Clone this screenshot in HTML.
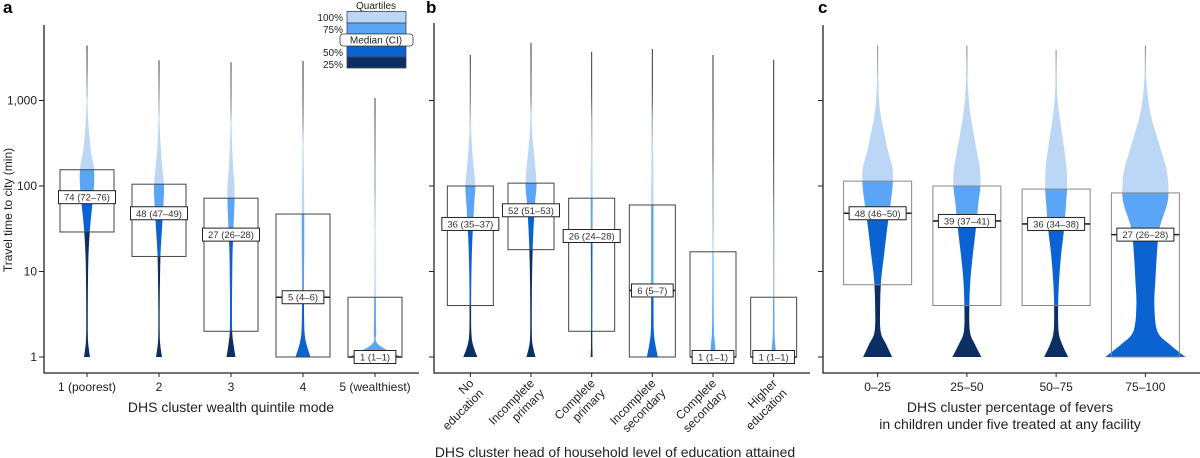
<!DOCTYPE html>
<html><head><meta charset="utf-8"><style>
html,body{margin:0;padding:0;background:#fff;width:1200px;height:458px;overflow:hidden}
svg{font-family:"Liberation Sans",sans-serif}
</style></head><body>
<svg id="chart" width="1200" height="458" viewBox="0 0 1200 458" xmlns="http://www.w3.org/2000/svg"></svg>
<script>
// ---- data ----
const levels = [0, 0.15, 0.3, 0.6, 0.9, 1.2, 1.5, 1.8, 2.0, 2.2, 2.4, 2.6, 2.8, 3.0, 3.3, 3.6]; // log10 minutes
const catsA = ["1 (poorest)", "2", "3", "4", "5 (wealthiest)"];
const catsB = [["No","education"],["Incomplete","primary"],["Complete","primary"],["Incomplete","secondary"],["Complete","secondary"],["Higher","education"]];
const catsC = ["0–25", "25–50", "50–75", "75–100"];
const medA = [74, 48, 27, 5, 1];
const ciA = ["74 (72–76)", "48 (47–49)", "27 (26–28)", "5 (4–6)", "1 (1–1)"];
const q1A = [29, 15, 2, 1, 1];
const q3A = [155, 105, 72, 47, 5];
const maxA = [4400, 2960, 2800, 2900, 1070];
const medB = [36, 52, 26, 6, 1, 1];
const ciB = ["36 (35–37)", "52 (51–53)", "26 (24–28)", "6 (5–7)", "1 (1–1)", "1 (1–1)"];
const q1B = [4, 18, 2, 1, 1, 1];
const q3B = [100, 108, 72, 60, 17, 5];
const maxB = [3400, 4700, 3700, 4000, 3400, 3000];
const medC = [48, 39, 36, 27];
const ciC = ["48 (46–50)", "39 (37–41)", "36 (34–38)", "27 (26–28)"];
const q1C = [7, 4, 4, 1];
const q3C = [114, 100, 92, 83];
const maxC = [4400, 4400, 3900, 4400];
const densA = [
 [3,1.3,0.8,0.8,1,1.5,3,5.5,7,7,4,2.2,1,0.5,0.2,0],
 [3,1.2,0.7,0.7,1,1.5,3,4.5,5,3.5,2,1,0.5,0.3,0.1,0],
 [4.5,2.5,1.2,1,1.2,1.5,2.5,3.5,3.5,2.2,1.3,0.8,0.4,0.2,0.1,0],
 [7.5,3.5,1.5,1,1,1.2,1.3,1.2,1,0.8,0.6,0.4,0.2,0.1,0,0],
 [26,3,1.2,0.9,0.7,0.6,0.5,0.4,0.3,0.3,0.2,0.15,0.1,0.05,0,0]];
const densB = [
 [7,2.5,1,0.8,1,1.5,2.5,4,5,3.5,2,1,0.5,0.2,0.1,0],
 [4.5,1.5,0.8,0.8,1,1.5,2.5,4,5.5,4.5,2.8,1.3,0.6,0.2,0.1,0],
 [1,0.6,0.6,0.6,0.7,0.8,0.9,1,1,0.9,0.7,0.5,0.3,0.1,0,0],
 [5.5,3,1.5,1.2,1.2,1.2,1.2,1.2,1.1,1,0.8,0.5,0.3,0.1,0,0],
 [3,2,1,0.7,0.6,0.5,0.4,0.3,0.3,0.2,0.1,0.1,0.05,0,0,0],
 [3,1.5,0.8,0.6,0.5,0.4,0.3,0.2,0.1,0.1,0,0,0,0,0,0]];
const densC = [
 [14.5,8.5,3,2.5,3.5,6.5,9.5,13,15,15,10.5,7,3.5,1.5,0.4,0],
 [14.5,8,3,2.5,3.5,6,9,11.5,13.5,13,10,7,4,2,0.5,0],
 [12,6,2.5,2,3,5,8,10,11,10.5,8.5,6,3.5,1.5,0.4,0],
 [40,24,12,9,10,11.5,14,22,23,21,16,11,6,3,0.7,0]];
const yTicks = [1, 10, 100, 1000];
const yTickLabels = ["1", "10", "100", "1,000"];

const COL = {light:"#bcd7f5", mid:"#5aa5f5", blue:"#0a63d1", dark:"#0b2f63"};
const NS = "http://www.w3.org/2000/svg";
const svg = document.getElementById("chart");
const Y = v => 357 - 85.5 * Math.log10(v);
function mk(tag, attrs, parent){const e=document.createElementNS(NS,tag);for(const k in attrs)e.setAttribute(k,attrs[k]);(parent||svg).appendChild(e);return e;}
function txt(x,y,s,size,anchor,parent,extra){const t=mk("text",Object.assign({x:x,y:y,"font-size":size,"text-anchor":anchor||"middle",fill:"#222"},extra||{}),parent);t.textContent=s;return t;}
let uid=0;
const defs = mk("defs",{});

// smooth open curve through points using Catmull-Rom -> cubic bezier
function smooth(pts){
  let s="";
  for(let i=0;i<pts.length-1;i++){
    const p0=pts[Math.max(0,i-1)],p1=pts[i],p2=pts[i+1],p3=pts[Math.min(pts.length-1,i+2)];
    const c1=[p1[0]+(p2[0]-p0[0])/6,p1[1]+(p2[1]-p0[1])/6];
    const c2=[p2[0]-(p3[0]-p1[0])/6,p2[1]-(p3[1]-p1[1])/6];
    s+=`C${c1[0].toFixed(2)},${c1[1].toFixed(2)} ${c2[0].toFixed(2)},${c2[1].toFixed(2)} ${p2[0].toFixed(2)},${p2[1].toFixed(2)}`;
  }
  return s;
}

function panel(cfg){
  const g = mk("g",{});
  
  
  const n = cfg.cats.length;
  const step = (cfg.x1 - cfg.x0) / n;
  const X = i => cfg.x0 + step * (i + 0.5);
  const ax = mk("path",{d:`M${cfg.ax},${cfg.ytop} V373 H${cfg.axEnd}`,stroke:"#222","stroke-width":1.3,fill:"none"},g);
  
  
  yTicks.forEach((v,i)=>{
    mk("line",{x1:cfg.ax-5,x2:cfg.ax,y1:Y(v),y2:Y(v),stroke:"#222","stroke-width":1},g);
    if(cfg.ylabels){const t=txt(cfg.ax-7,Y(v)+4,yTickLabels[i],12,"end",g);
      
      }
  });
  for(let i=0;i<n;i++){
    const cx = X(i);
    mk("line",{x1:cx,x2:cx,y1:373,y2:377,stroke:"#222","stroke-width":1},g);
    const q1=cfg.q1[i], q3=cfg.q3[i], md=cfg.med[i];
    const wl = mk("line",{x1:cx,x2:cx,y1:Y(1),y2:Y(cfg.max[i]),stroke:cfg.wcol,"stroke-width":1},g);
    
    
    const d = cfg.dens[i];
    let right=[], left=[];
    levels.forEach((L,k)=>{const yy=357-85.5*L; right.push([cx+d[k],yy]); left.push([cx-d[k],yy]);});
    const lr2 = left.slice().reverse();
    const pd = `M${cx},357L${right[0][0]},${right[0][1]}`+smooth(right)+`L${lr2[0][0]},${lr2[0][1]}`+smooth(lr2)+"Z";
    const bands = [[1e6,q3,COL.light],[q3,md,COL.mid],[md,q1,COL.blue],[q1,0.9,COL.dark]];
    const topY = Y(cfg.max[i]);
    bands.forEach(b=>{
      const ya = Math.max(Y(b[0]), topY), yb = b[1]<=1 ? 357 : Y(b[1]);
      if(yb<=ya) return;
      const id="c"+(uid++);
      const cp=mk("clipPath",{id:id},defs);
      mk("rect",{x:cx-60,y:ya,width:120,height:yb-ya},cp);
      const v=mk("path",{d:pd,fill:b[2],"clip-path":`url(#${id})`},g);
      
      
    });
    const bw = cfg.bw;
    const box = mk("rect",{x:cx-bw/2,y:Y(q3),width:bw,height:Y(q1)-Y(q3),fill:"none",stroke:cfg.bcol,"stroke-width":1},g);
    
    
    const ml = mk("line",{x1:cx-bw/2,x2:cx+bw/2,y1:Y(md),y2:Y(md),stroke:"#222","stroke-width":1.6},g);
    
    
    const s = cfg.ci[i];
    const lw = s.length*5.1+6;
    const lr = mk("rect",{x:cx-lw/2,y:Y(md)-6.5,width:lw,height:13,fill:"#fff",stroke:"#222","stroke-width":1},g);
    
    
    txt(cx,Y(md)+3.5,s,9.5,"middle",g,{fill:"#333"});
    if(cfg.rot){
      const c=cfg.cats[i];
      const tg=mk("g",{transform:`translate(${cx+4},${384}) rotate(-45)`},g);
      txt(0,0,c[0],12,"end",tg);
      txt(0,14,c[1],12,"end",tg);
      
      
    } else {
      const t=txt(cx,391,cfg.cats[i],12,"middle",g);
      
      
    }
  }
  cfg.titles.forEach((t,j)=>{const e=txt(cfg.tx,cfg.ty+j*17,t,14,"middle",g);
    
    });
  const L=txt(cfg.letterX,13,cfg.letter,17,"start",g,{"font-weight":"bold",fill:"#000"});
  
  
}

panel({name:"panel-a",cats:catsA,x0:51,x1:411,ax:44,axEnd:419,ytop:25,ylabels:true,q1:q1A,q3:q3A,med:medA,max:maxA,ci:ciA,dens:densA,bw:54,wcol:"#333",bcol:"#444",rot:false,titles:["DHS cluster wealth quintile mode"],tx:231,ty:412,letter:"a",letterX:3});
panel({name:"panel-b",cats:catsB,x0:440,x1:804,ax:434,axEnd:810,ytop:23,ylabels:false,q1:q1B,q3:q3B,med:medB,max:maxB,ci:ciB,dens:densB,bw:46,wcol:"#333",bcol:"#444",rot:true,titles:["DHS cluster head of household level of education attained"],tx:615,ty:457,letter:"b",letterX:426});
panel({name:"panel-c",cats:catsC,x0:833,x1:1190,ax:823,axEnd:1200,ytop:25,ylabels:false,q1:q1C,q3:q3C,med:medC,max:maxC,ci:ciC,dens:densC,bw:68,wcol:"#888",bcol:"#888",rot:false,titles:["DHS cluster percentage of fevers","in children under five treated at any facility"],tx:1010,ty:412,letter:"c",letterX:818});

const yt = txt(0,0,"Travel time to city (min)",12,"middle",svg,{transform:"translate(12,210) rotate(-90)"});



const lg = mk("g",{});


txt(376,9,"Quartiles",10,"middle",lg);
[[11.5,COL.light,"100%",19],[23,COL.mid,"75%",31],[46,COL.blue,"50%",54],[57,COL.dark,"25%",66]].forEach(r=>{
  const h = r[0]===11.5?11.5:11;
  const rr=mk("rect",{x:347,y:r[0],width:59,height:h,fill:r[1],stroke:"#445","stroke-width":0.8},lg);
  
  
  txt(343,r[3]+2,r[2],10,"end",lg);
});
mk("rect",{x:340,y:34,width:73,height:12,rx:3,fill:"#fff",stroke:"#333","stroke-width":0.8},lg);
txt(376,43.5,"Median (CI)",10,"middle",lg);
</script>
</body></html>
